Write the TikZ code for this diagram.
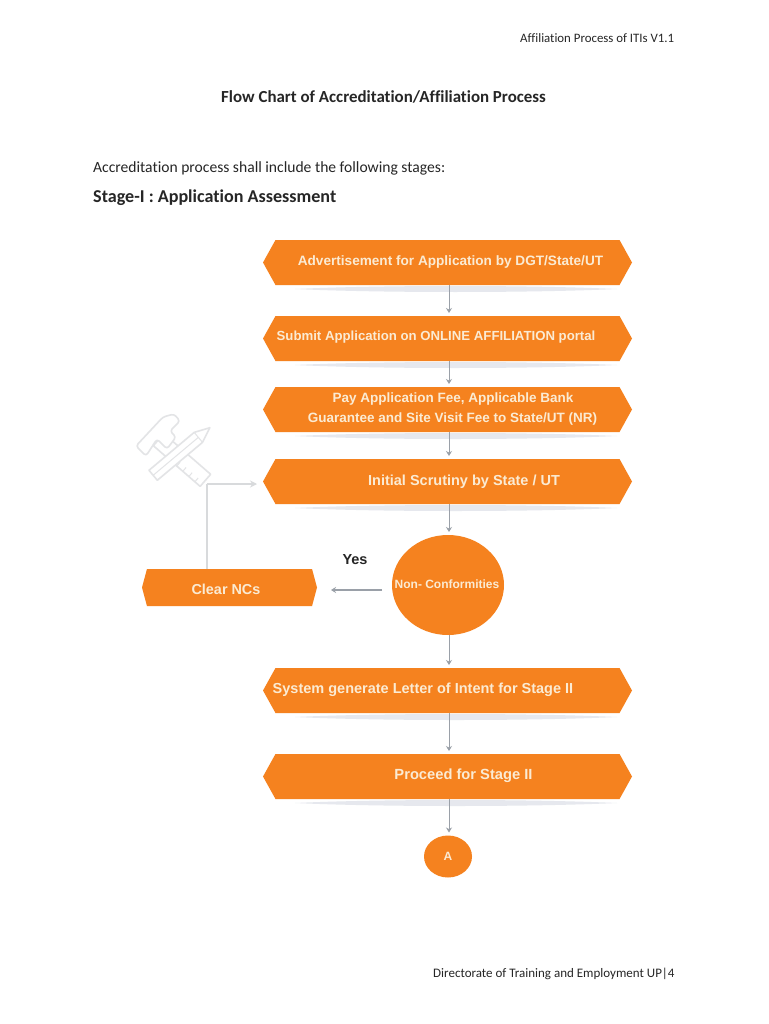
\documentclass[tikz,border=0pt]{standalone}
\usepackage{fontspec}
\setmainfont{Carlito}[Ligatures=CommonOff]
\newfontfamily\boxfont{Liberation Sans}
\usetikzlibrary{shapes.symbols,shapes.geometric,arrows.meta}
\definecolor{boxorange}{HTML}{F5821F}
\definecolor{boxtext}{HTML}{FBEBD3}
\definecolor{linegrey}{HTML}{9AA0A8}
\definecolor{linelight}{HTML}{D8DADC}
\definecolor{shadowgrey}{HTML}{E6E8EE}
\definecolor{icongrey}{HTML}{E3E4E6}
\tikzset{
  hexbox/.style={signal,signal to=east and west,signal pointer angle=122,fill=boxorange,draw=none,
    minimum width=369pt,minimum height=45pt,inner sep=0pt,outer sep=0pt},
  smallhex/.style={signal,signal to=east and west,signal pointer angle=150,fill=boxorange,draw=none,
    minimum width=175pt,minimum height=37pt,inner sep=0pt,outer sep=0pt},
  disc/.style={ellipse,fill=boxorange,draw=none,inner sep=0pt,outer sep=0pt},
  boxlabel/.style={text=boxtext,font=\boxfont\bfseries\fontsize{#1}{#1}\selectfont,inner sep=0pt,anchor=center,align=center},
  doctext/.style={inner sep=0pt,anchor=base west,text=black!85},
  flow/.style={draw=linegrey,line width=1pt,-{Stealth[length=5pt,width=6pt]},shorten >=3pt},
  flowsoft/.style={draw=linelight,line width=1.4pt},
  shade/.style={fill=shadowgrey,draw=none},
  iconline/.style={draw=icongrey,line width=1.6pt,fill=white,line join=round}
}
\begin{document}
\begin{tikzpicture}[x=1pt,y=-1pt]
\useasboundingbox (0,0) rectangle (768,1024);
\fill[white] (0,0) rectangle (768,1024);
% document text
\node[doctext,font=\fontsize{12.85}{14}\selectfont] (hdr) at (520,42.5) {Affiliation Process of ITIs V1.1};
\node[doctext,font=\bfseries\fontsize{16.9}{18}\selectfont] (ttl) at (221,102.5) {Flow Chart of Accreditation/Affiliation Process};
\node[doctext,font=\fontsize{15.6}{18}\selectfont] (intro) at (93,172.5) {Accreditation process shall include the following stages:};
\node[doctext,font=\bfseries\fontsize{18.1}{20}\selectfont] (stage) at (93,203) {Stage-I : Application Assessment};
\node[doctext,font=\fontsize{13}{14}\selectfont] (ftr) at (433,977) {Directorate of Training and Employment UP|4};
% shadows
\foreach \y in {289,365,436,508,717,803}{
  \path[shade] (295,\y) .. controls (380,\y-4) and (530,\y-4) .. (617,\y) .. controls (530,\y+4) and (380,\y+4) .. (295,\y) -- cycle;
}
% icon
\begin{scope}[shift={(182,460)},rotate=-41]
  \path[iconline] (-31,-8) rectangle (31,8);
  \foreach \k in {-8,0,8,16,24}{\draw[icongrey,line width=1pt] (\k,8) -- (\k,3);}
\end{scope}
\begin{scope}[shift={(181.5,451.5)},rotate=40]
  \path[iconline] (-37,-6.5) -- (22,-6.5) -- (37,0) -- (22,6.5) -- (-37,6.5) -- cycle;
  \draw[icongrey,line width=1pt] (-37,0) -- (22,0) (22,-6.5) -- (22,6.5);
\end{scope}
\path[iconline,rounded corners=3pt] (136,446) -- (163,417) -- (174,414) -- (180,421) -- (170,431) -- (176,437) -- (167,449) -- (157,439) -- (146,456) -- cycle;
% boxes
\node[hexbox] (b1) at (447.5,262.5) {};
\node[hexbox] (b2) at (447.5,338.5) {};
\node[hexbox] (b3) at (447.5,409.5) {};
\node[hexbox] (b4) at (447.5,481.5) {};
\node[disc,minimum width=112pt,minimum height=100pt] (nc) at (448,585) {};
\node[smallhex] (clr) at (229.5,587.5) {};
\node[hexbox] (b5) at (447.5,690.5) {};
\node[hexbox] (b6) at (447.5,776.5) {};
\node[disc,minimum width=48pt,minimum height=42pt] (a) at (448,856.5) {};
% labels
\node[boxlabel=13.6] (t1) at (450.5,262) {Advertisement for Application by DGT/State/UT};
\node[boxlabel=13.2] (t2) at (436,337) {Submit Application on ONLINE AFFILIATION portal};
\node[boxlabel=13.5] (t3a) at (453,399.5) {Pay Application Fee, Applicable Bank};
\node[boxlabel=13.5] (t3b) at (452.5,419.5) {Guarantee and Site Visit Fee to State/UT (NR)};
\node[boxlabel=14.5] (t4) at (464,481.5) {Initial Scrutiny by State / UT};
\node[boxlabel=12] (t5) at (447,584) {Non- Conformities};
\node[boxlabel=14.4] (t6) at (226,589) {Clear NCs};
\node[boxlabel=14.5] (t7) at (423,690) {System generate Letter of Intent for Stage II};
\node[boxlabel=14.7] (t8) at (463.5,776) {Proceed for Stage II};
\node[boxlabel=12] (t9) at (448,856) {A};
\node[inner sep=0pt,text=black!85,font=\boxfont\bfseries\fontsize{14.5}{14}\selectfont] (yes) at (355,559.5) {Yes};
% connectors
\coordinate (turn) at (207,484);
\coordinate (clrtop) at (207,569);
\draw[flow] (b1.south -| 449,0) -- (b2.north -| 449,0);
\draw[flow] (b2.south -| 449,0) -- (b3.north -| 449,0);
\draw[flow] (b3.south -| 449,0) -- (b4.north -| 449,0);
\draw[flow] (b4.south -| 449,0) -- (nc.north -| 449,0);
\draw[flow] (nc.south -| 449,0) -- (b5.north -| 449,0);
\draw[flow] (b5.south -| 449,0) -- (b6.north -| 449,0);
\draw[flow] (b6.south -| 449,0) -- (a.north -| 449,0);
\draw[flow,line width=1.4pt,shorten >=14pt,shorten <=10pt] (nc.west |- 0,590) -- (clr.east |- 0,590);
\draw[flowsoft] (clrtop) -- (turn);
\draw[flowsoft,-{Stealth[length=7pt,width=7pt]}] (turn) -- ([xshift=-6pt]b4.west |- turn);
\end{tikzpicture}
\end{document}
